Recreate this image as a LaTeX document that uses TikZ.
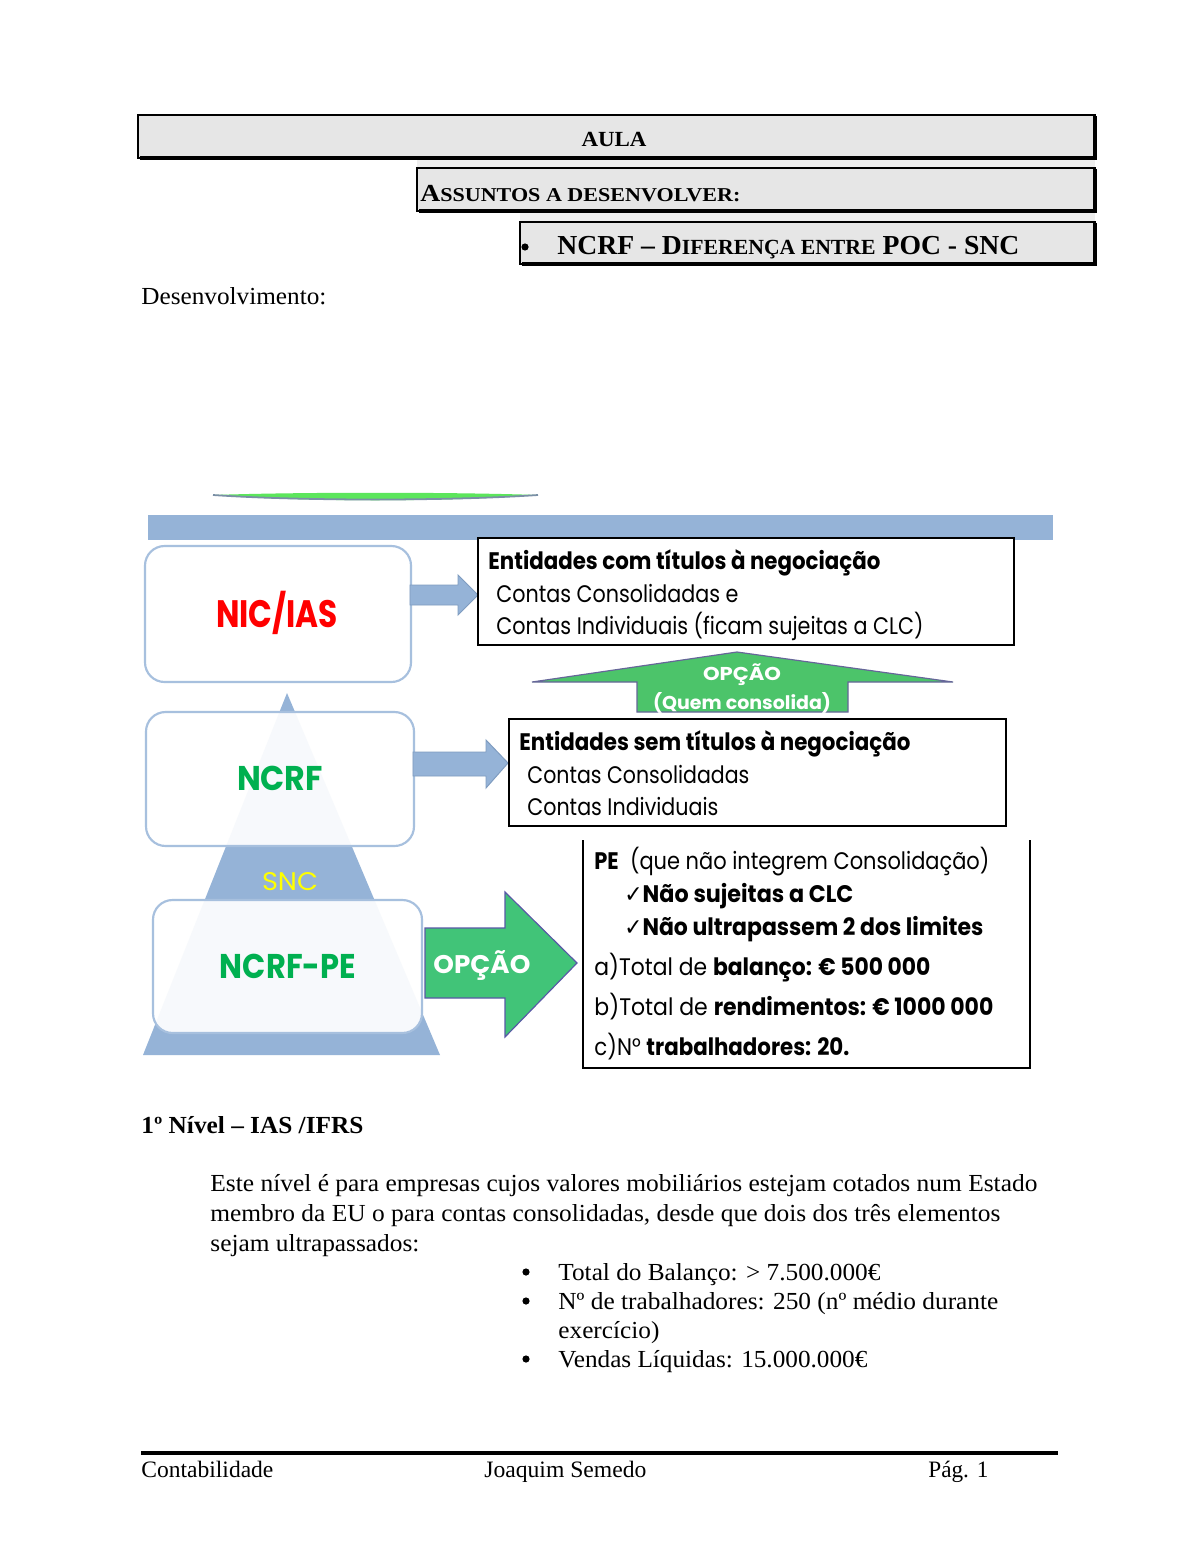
\documentclass[tikz,border=0pt]{standalone}
\usepackage{fontspec}
\usepackage{graphicx}
\setmainfont{Liberation Serif}
\newfontfamily\gfont{Poppins}
\newfontfamily\dejavu{DejaVu Sans}
\newlength\px \setlength\px{0.51pt}
\newcommand\fw[2]{\resizebox{#1\px}{\height}{#2}}
\newcommand\ck{{\dejavu\fontsize{12}{14}\selectfont ✓}}
\definecolor{bluebar}{HTML}{95B3D7}
\definecolor{boxline}{HTML}{A7C0DE}
\definecolor{arrowedge}{HTML}{7F9CC0}
\definecolor{biggreen}{HTML}{41C478}
\definecolor{upgreen}{HTML}{4CC46A}
\definecolor{hdrgray}{HTML}{E6E6E6}
\definecolor{hdrstrip}{HTML}{EEEEEE}
\definecolor{nicred}{HTML}{FF0000}
\definecolor{ncrfgreen}{HTML}{00B050}
\definecolor{sncyellow}{HTML}{FFFF00}
\definecolor{lensgreen}{HTML}{5CE65C}
\definecolor{lensedge}{HTML}{7A8FA6}
\begin{document}
\begin{tikzpicture}[x=0.51pt,y=-0.51pt,
  txt/.style={inner sep=0, anchor=base west},
  ctxt/.style={inner sep=0, anchor=base},
  hdrbox/.style={fill=hdrgray, draw=black, line width=1.2pt},
  hdrshadow/.style={draw=black, line width=2pt},
  rbox/.style={draw=boxline, line width=1.1pt, fill=white, fill opacity=0.93, rounded corners=10pt},
  infobox/.style={draw=black, line width=0.8pt},
  bluearrow/.style={fill=bluebar, draw=arrowedge, line width=0.5pt}]
\useasboundingbox (0,0) rectangle (1200,1553);
\fill[white] (0,0) rectangle (1200,1553);

% ---------- header ----------
\fill[hdrstrip] (417,158) rectangle (1095,168);
\fill[hdrstrip] (520,211) rectangle (1095,222);
\draw[hdrbox] (138,115) rectangle (1095,158);
\draw[hdrshadow] (140,158) -- (1095,158) -- (1095,116);
\draw[hdrbox] (417,168) rectangle (1095,211);
\draw[hdrshadow] (419,211) -- (1095,211) -- (1095,169);
\draw[hdrbox] (520,222) rectangle (1095,264);
\draw[hdrshadow] (522,264) -- (1095,264) -- (1095,223);
\node[ctxt] (aula) at (614,147) {\fw{65}{\bfseries\fontsize{11}{13}\selectfont AULA}};
\node[txt] (assuntos) at (420,202) {\fw{320}{\bfseries\fontsize{12.5}{14}\selectfont A{\fontsize{10}{12}\selectfont SSUNTOS A DESENVOLVER:}}};
\fill (525,247) circle (3.6);
\node[txt] (tema) at (557,255) {\fw{462}{\bfseries\fontsize{14}{16}\selectfont NCRF – D{\fontsize{11}{13}\selectfont IFERENÇA ENTRE} POC - SNC}};
\node[txt] (desenv) at (141,305) {\fw{185}{\fontsize{12.5}{15}\selectfont Desenvolvimento:}};

% ---------- diagram ----------
% green lens
\fill[lensgreen] (213,495) .. controls (300,492) and (450,492) .. (538,495) .. controls (450,502) and (300,502) .. (213,495) -- cycle;
\draw[lensedge, line width=0.9pt] (213,495) .. controls (300,501) and (450,501) .. (538,495);
% blue bar
\fill[bluebar] (148,515) rectangle (1053,540);

% pyramid
\fill[bluebar] (287,693) -- (440,1055) -- (143,1055) -- cycle;

% rounded boxes
\draw[rbox] (145,546) rectangle (411,682);
\draw[rbox] (146,712) rectangle (414,846);
\draw[rbox] (153,900) rectangle (422,1033);
\node[ctxt] (nic) at (277,627) {\fw{122}{\gfont\bfseries\fontsize{19.5}{22}\selectfont\color{nicred}NIC/IAS}};
\node[ctxt] (ncrf) at (280,790) {\fw{86}{\gfont\bfseries\fontsize{17.5}{20}\selectfont\color{ncrfgreen}NCRF}};
\node[ctxt] (snc) at (290,890) {\fw{56}{\gfont\fontsize{13}{15}\selectfont\color{sncyellow}SNC}};
\node[ctxt] (ncrfpe) at (288,978) {\fw{136}{\gfont\bfseries\fontsize{17.5}{20}\selectfont\color{ncrfgreen}NCRF-PE}};

% blue arrows
\draw[bluearrow] (410,585) -- (458,585) -- (458,575) -- (478,595) -- (458,615) -- (458,605) -- (410,605) -- cycle;
\draw[bluearrow] (413,752) -- (486,752) -- (486,740) -- (508,763) -- (486,788) -- (486,776) -- (413,776) -- cycle;

% info box 1
\draw[infobox, fill=white] (478,538) rectangle (1014,645);
\node[txt] (b1l1) at (488,569) {\fw{392}{\gfont\bfseries\fontsize{12.2}{14}\selectfont Entidades com títulos à negociação}};
\node[txt] (b1l2) at (496,602) {\fw{242}{\gfont\fontsize{12.2}{14}\selectfont Contas Consolidadas e}};
\node[txt] (b1l3) at (496,634) {\fw{427}{\gfont\fontsize{12.2}{14}\selectfont Contas Individuais (ficam sujeitas a CLC)}};

% green up arrow
\draw[fill=upgreen, draw=gray!80!blue, line width=0.6pt] (532,682) -- (737,652) -- (953,682) -- (848,682) -- (848,712) -- (637,712) -- (637,682) -- cycle;
\node[ctxt] (opc1) at (742,680) {\fw{78}{\gfont\bfseries\fontsize{9.5}{11}\selectfont\color{white}OPÇÃO}};
\node[ctxt] (opc2) at (742,709) {\fw{178}{\gfont\bfseries\fontsize{9.5}{11}\selectfont\color{white}(Quem consolida)}};

% info box 2
\draw[infobox, fill=white] (509,719) rectangle (1006,826);
\node[txt] (b2l1) at (519,750) {\fw{391}{\gfont\bfseries\fontsize{12.2}{14}\selectfont Entidades sem títulos à negociação}};
\node[txt] (b2l2) at (527,783) {\fw{222}{\gfont\fontsize{12.2}{14}\selectfont Contas Consolidadas}};
\node[txt] (b2l3) at (527,815) {\fw{191}{\gfont\fontsize{12.2}{14}\selectfont Contas Individuais}};

% big green arrow
\draw[fill=biggreen, draw=gray!70!blue, line width=0.6pt] (425,928) -- (505,928) -- (505,892) -- (577,963) -- (505,1037) -- (505,998) -- (425,998) -- cycle;
\node[txt] (opc3) at (433,973) {\fw{97}{\gfont\bfseries\fontsize{13}{15}\selectfont\color{white}OPÇÃO}};

% info box 3 (open top)
\draw[infobox] (583,840) -- (583,1068) -- (1030,1068) -- (1030,840);
\node[txt] (b3l1) at (594,869) {\fw{395}{\gfont\fontsize{12.2}{14}\selectfont\textbf{PE}\ \ (que não integrem Consolidação)}};
\node[txt] (b3l2) at (624,902) {\fw{229}{\gfont\fontsize{12.2}{14}\selectfont\ck\textbf{Não sujeitas a CLC}}};
\node[txt] (b3l3) at (624,935) {\fw{359}{\gfont\fontsize{12.2}{14}\selectfont\ck\textbf{Não ultrapassem 2 dos limites}}};
\node[txt] (b3l4) at (594,975) {\fw{336}{\gfont\fontsize{12.2}{14}\selectfont a)Total de \textbf{balanço: € 500 000}}};
\node[txt] (b3l5) at (594,1015) {\fw{399}{\gfont\fontsize{12.2}{14}\selectfont b)Total de \textbf{rendimentos: € 1000 000}}};
\node[txt] (b3l6) at (594,1055) {\fw{255}{\gfont\fontsize{12.2}{14}\selectfont c)N° \textbf{trabalhadores: 20.}}};

% ---------- body text ----------
\node[txt] (nivel) at (141,1133) {\fw{222}{\bfseries\fontsize{12.5}{15}\selectfont 1º Nível – IAS /IFRS}};
\node[txt] (p1) at (210,1191) {\fw{827}{\fontsize{12.5}{15}\selectfont Este nível é para empresas cujos valores mobiliários estejam cotados num Estado}};
\node[txt] (p2) at (210,1221) {\fw{790}{\fontsize{12.5}{15}\selectfont membro da EU o para contas consolidadas, desde que dois dos três elementos}};
\node[txt] (p3) at (210,1251) {\fw{209}{\fontsize{12.5}{15}\selectfont sejam ultrapassados:}};
\fill (526,1272) circle (3.6);
\fill (526,1301) circle (3.6);
\fill (526,1359) circle (3.6);
\node[txt] (i1) at (558,1280) {\fw{322}{\fontsize{12.5}{15}\selectfont Total do Balanço: > 7.500.000€}};
\node[txt] (i2) at (558,1309) {\fw{440}{\fontsize{12.5}{15}\selectfont Nº de trabalhadores: 250 (nº médio durante}};
\node[txt] (i2b) at (558,1338) {\fw{101}{\fontsize{12.5}{15}\selectfont exercício)}};
\node[txt] (i3) at (558,1367) {\fw{309}{\fontsize{12.5}{15}\selectfont Vendas Líquidas: 15.000.000€}};

% ---------- footer ----------
\draw[line width=2pt] (141,1453) -- (1058,1453);
\node[txt] (f1) at (141,1477) {\fw{132}{\fontsize{12}{14}\selectfont Contabilidade}};
\node[txt] (f2) at (484,1477) {\fw{162}{\fontsize{12}{14}\selectfont Joaquim Semedo}};
\node[txt] (f3) at (928,1477) {\fw{60}{\fontsize{12}{14}\selectfont Pág. 1}};
\end{tikzpicture}
\end{document}
